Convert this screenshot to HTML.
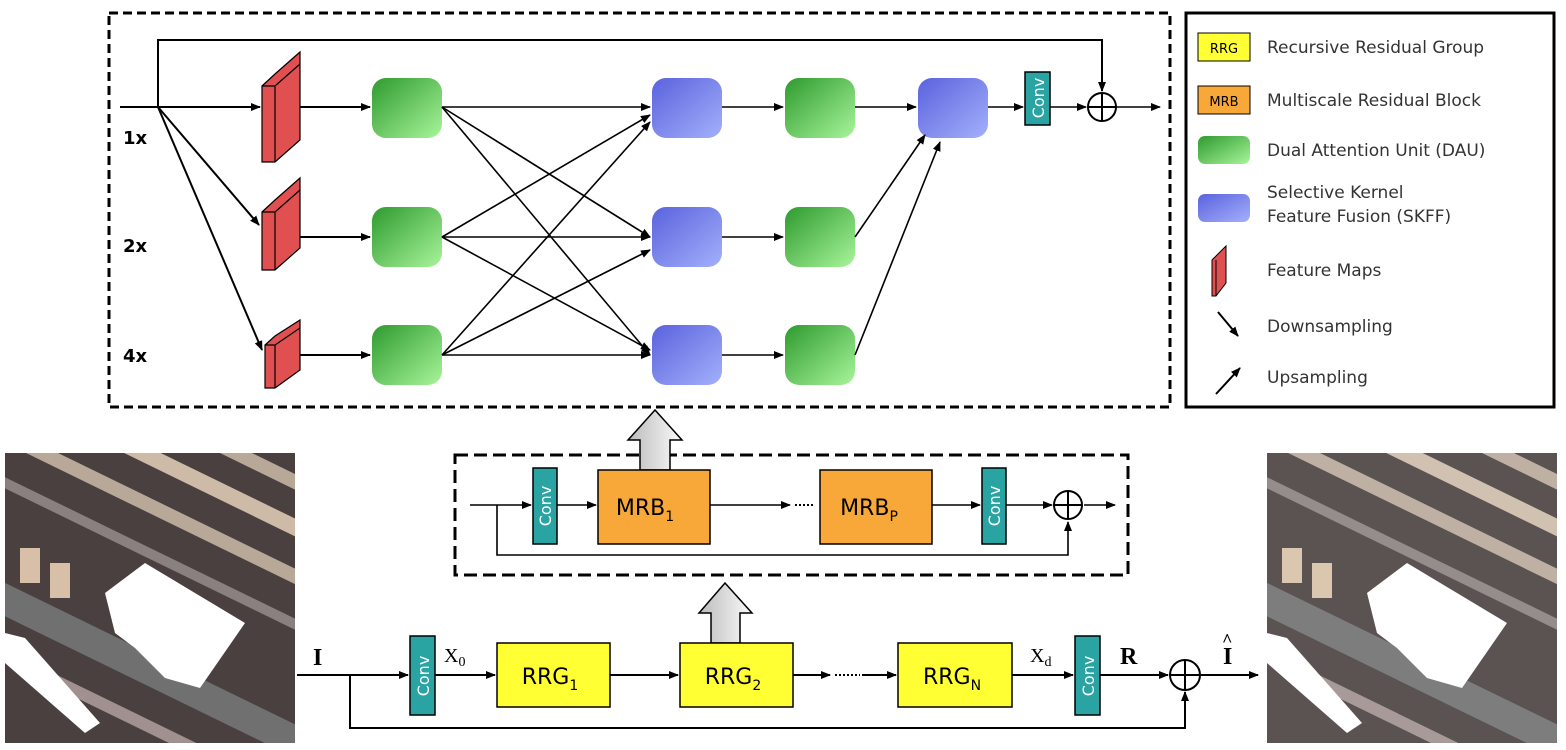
<!DOCTYPE html>
<html><head><meta charset="utf-8"><style>html,body{margin:0;background:#fff;width:1566px;height:750px;overflow:hidden}svg{display:block}</style></head><body>
<svg width="1566" height="750" viewBox="0 0 1566 750" xmlns="http://www.w3.org/2000/svg" font-family="DejaVu Sans, Liberation Sans, sans-serif" overflow="hidden">
<defs>
<marker id="a" markerWidth="10" markerHeight="8" refX="9" refY="4" orient="auto" markerUnits="userSpaceOnUse"><path d="M0,0L10,4L0,8z" fill="#000"/></marker>
<linearGradient id="g" x1="0" y1="0" x2="1" y2="1"><stop offset="0" stop-color="#2e9a2e"/><stop offset="1" stop-color="#a8f59a"/></linearGradient>
<linearGradient id="b" x1="0" y1="0" x2="1" y2="1"><stop offset="0" stop-color="#5a62dd"/><stop offset="1" stop-color="#a3b0fb"/></linearGradient>
<linearGradient id="gr" x1="0" y1="0" x2="1" y2="0"><stop offset="0" stop-color="#bbb"/><stop offset="1" stop-color="#fafafa"/></linearGradient>
<g id="dau"><rect width="70" height="60" rx="14" fill="url(#g)"/></g>
<g id="sk"><rect width="70" height="60" rx="14" fill="url(#b)"/></g>
<symbol id="img" viewBox="0 0 290 290" overflow="hidden">
<rect width="290" height="290" fill="#4a4040"/>
<g transform="rotate(26 145 145)">
<rect x="-100" y="-30" width="500" height="14" fill="#b8a898"/>
<rect x="-100" y="10" width="500" height="16" fill="#cdbba8"/>
<rect x="-100" y="55" width="500" height="14" fill="#b8a898"/>
<rect x="-100" y="100" width="500" height="10" fill="#8a8080"/>
<rect x="-100" y="195" width="500" height="30" fill="#707070"/>
<rect x="-100" y="255" width="500" height="12" fill="#a09090"/>
</g>
<rect x="15" y="95" width="20" height="35" fill="#d8c0a8"/><rect x="45" y="110" width="20" height="35" fill="#d8c0a8"/>
<polygon points="100,140 140,110 240,170 195,235 160,225 130,195 110,180" fill="#fff"/>
<polygon points="0,180 20,185 95,270 80,280 0,210" fill="#fff"/>
</symbol>
</defs>

<rect x="109" y="13" width="1061" height="394" fill="none" stroke="#000" stroke-width="3" stroke-dasharray="9,5"/>
<text x="123" y="144" font-size="18" font-weight="bold">1x</text>
<text x="123" y="252" font-size="18" font-weight="bold">2x</text>
<text x="123" y="362" font-size="18" font-weight="bold">4x</text>
<g stroke="#000" stroke-width="2" fill="none">
<line x1="120" y1="107" x2="260" y2="107" marker-end="url(#a)"/>
<polyline points="158,107 158,40 1102,40 1102,91" marker-end="url(#a)"/>
<line x1="158" y1="107" x2="259" y2="225" marker-end="url(#a)"/>
<line x1="158" y1="107" x2="262" y2="350" marker-end="url(#a)"/>
<line x1="290" y1="107" x2="370" y2="107" marker-end="url(#a)"/>
<line x1="290" y1="237" x2="370" y2="237" marker-end="url(#a)"/>
<line x1="290" y1="355" x2="370" y2="355" marker-end="url(#a)"/>
</g>
<g stroke="#000" stroke-width="1.2" fill="#e05050">
<polygon points="262,86 275,74 300,52 300,140 275,162 262,162"/><line x1="275" y1="86" x2="275" y2="162"/><polyline points="262,86 275,86 300,64" fill="none"/>
<polygon points="262,212 275,200 300,178 300,248 275,270 262,270"/><line x1="275" y1="212" x2="275" y2="270"/><polyline points="262,212 275,212 300,190" fill="none"/>
<polygon points="265,345 275,336 300,320 300,370 275,388 265,388"/><line x1="275" y1="345" x2="275" y2="388"/><polyline points="265,345 275,345 300,328" fill="none"/>
</g>
<use href="#dau" x="372" y="78"/><use href="#dau" x="372" y="207"/><use href="#dau" x="372" y="325"/>
<use href="#sk" x="652" y="78"/><use href="#sk" x="652" y="207"/><use href="#sk" x="652" y="325"/>
<use href="#dau" x="785" y="78"/><use href="#dau" x="785" y="207"/><use href="#dau" x="785" y="325"/>
<use href="#sk" x="918" y="78"/>
<g stroke="#000" stroke-width="1.6" fill="none" marker-end="url(#a)">
<line x1="442" y1="107" x2="650" y2="107"/><line x1="442" y1="107" x2="650" y2="237"/><line x1="442" y1="107" x2="650" y2="355"/>
<line x1="442" y1="237" x2="650" y2="115"/><line x1="442" y1="237" x2="650" y2="237"/><line x1="442" y1="237" x2="650" y2="350"/>
<line x1="442" y1="355" x2="650" y2="122"/><line x1="442" y1="355" x2="650" y2="250"/><line x1="442" y1="355" x2="650" y2="355"/>
<line x1="722" y1="107" x2="783" y2="107"/><line x1="722" y1="237" x2="783" y2="237"/><line x1="722" y1="355" x2="783" y2="355"/>
<line x1="855" y1="107" x2="916" y2="107"/><line x1="855" y1="237" x2="925" y2="135"/><line x1="855" y1="355" x2="940" y2="142"/>
<line x1="988" y1="107" x2="1023" y2="107"/><line x1="1050" y1="107" x2="1086" y2="107"/><line x1="1116" y1="107" x2="1160" y2="107"/>
</g>
<rect x="1025" y="72" width="25" height="53" fill="#2aa3a3" stroke="#000" stroke-width="1.5"/>
<text transform="translate(1044,98) rotate(-90)" font-size="16" fill="#fff" text-anchor="middle">Conv</text>
<circle cx="1102" cy="107" r="14" fill="#fff" stroke="#000" stroke-width="2"/><path d="M1088,107H1116M1102,93V121" stroke="#000" stroke-width="2"/>

<rect x="1186" y="13" width="368" height="394" fill="#fff" stroke="#000" stroke-width="3"/>
<g font-size="17" fill="#333">
<rect x="1198" y="33" width="52" height="28" fill="#ffff33" stroke="#000"/><text x="1224" y="53" font-size="13" text-anchor="middle" fill="#000">RRG</text><text x="1267" y="53">Recursive Residual Group</text>
<rect x="1198" y="86" width="52" height="28" fill="#f8a838" stroke="#000"/><text x="1224" y="106" font-size="13" text-anchor="middle" fill="#000">MRB</text><text x="1267" y="106">Multiscale Residual Block</text>
<rect x="1198" y="136" width="52" height="28" rx="7" fill="url(#g)"/><text x="1267" y="156">Dual Attention Unit (DAU)</text>
<rect x="1198" y="194" width="52" height="28" rx="7" fill="url(#b)"/><text x="1267" y="198">Selective Kernel</text><text x="1267" y="222">Feature Fusion (SKFF)</text>
<polygon points="1212,260 1226,246 1226,283 1216,296 1212,296" fill="#e05050" stroke="#000"/><line x1="1216" y1="260" x2="1216" y2="296" stroke="#000"/><text x="1267" y="276">Feature Maps</text>
<line x1="1218" y1="312" x2="1238" y2="336" stroke="#000" stroke-width="2" marker-end="url(#a)"/><text x="1267" y="332">Downsampling</text>
<line x1="1216" y1="394" x2="1240" y2="368" stroke="#000" stroke-width="2" marker-end="url(#a)"/><text x="1267" y="383">Upsampling</text>
</g>

<rect x="455" y="455" width="673" height="120" fill="none" stroke="#000" stroke-width="3" stroke-dasharray="13,6"/>
<polygon points="640,470 640,440 628,440 655,410 682,440 670,440 670,470" fill="url(#gr)" stroke="#000" stroke-width="1.5"/>
<g stroke="#000" stroke-width="1.6" fill="none" marker-end="url(#a)">
<line x1="470" y1="505" x2="531" y2="505"/><line x1="557" y1="505" x2="596" y2="505"/><line x1="710" y1="505" x2="790" y2="505"/>
<line x1="932" y1="505" x2="980" y2="505"/><line x1="1006" y1="505" x2="1052" y2="505"/><line x1="1084" y1="505" x2="1115" y2="505"/>
<polyline points="497,505 497,555 1068,555 1068,522"/>
</g>
<line x1="795" y1="505" x2="815" y2="505" stroke="#000" stroke-width="2" stroke-dasharray="2,2"/>
<rect x="533" y="468" width="24" height="76" fill="#2aa3a3" stroke="#000" stroke-width="1.5"/><text transform="translate(551,506) rotate(-90)" font-size="16" fill="#fff" text-anchor="middle">Conv</text>
<rect x="982" y="468" width="24" height="76" fill="#2aa3a3" stroke="#000" stroke-width="1.5"/><text transform="translate(1000,506) rotate(-90)" font-size="16" fill="#fff" text-anchor="middle">Conv</text>
<rect x="598" y="470" width="112" height="74" fill="#f8a838" stroke="#000" stroke-width="1.5"/><text x="645" y="515" font-size="22" text-anchor="middle">MRB<tspan font-size="14" dy="6">1</tspan></text>
<rect x="820" y="470" width="112" height="74" fill="#f8a838" stroke="#000" stroke-width="1.5"/><text x="869" y="515" font-size="22" text-anchor="middle">MRB<tspan font-size="14" dy="6">P</tspan></text>
<circle cx="1068" cy="505" r="14" fill="#fff" stroke="#000" stroke-width="2"/><path d="M1054,505H1082M1068,491V519" stroke="#000" stroke-width="2"/>

<polygon points="711,643 711,613 699,613 725,583 752,613 740,613 740,643" fill="url(#gr)" stroke="#000" stroke-width="1.5"/>

<use href="#img" x="5" y="453" width="290" height="290"/>
<use href="#img" x="1267" y="453" width="290" height="290" opacity="0.9"/>
<g stroke="#000" stroke-width="2" fill="none" marker-end="url(#a)">
<line x1="297" y1="675" x2="408" y2="675"/><line x1="435" y1="675" x2="495" y2="675"/><line x1="610" y1="675" x2="678" y2="675"/>
<line x1="793" y1="675" x2="830" y2="675"/><line x1="1012" y1="675" x2="1073" y2="675"/><line x1="1100" y1="675" x2="1168" y2="675"/>
<line x1="1201" y1="675" x2="1258" y2="675"/>
<polyline points="350,675 350,728 1185,728 1185,692"/>
</g>
<line x1="835" y1="675" x2="860" y2="675" stroke="#000" stroke-width="2" stroke-dasharray="2,2"/>
<line x1="862" y1="675" x2="896" y2="675" stroke="#000" stroke-width="2" marker-end="url(#a)"/>
<rect x="410" y="636" width="25" height="79" fill="#2aa3a3" stroke="#000" stroke-width="1.5"/><text transform="translate(429,676) rotate(-90)" font-size="16" fill="#fff" text-anchor="middle">Conv</text>
<rect x="1075" y="636" width="25" height="79" fill="#2aa3a3" stroke="#000" stroke-width="1.5"/><text transform="translate(1094,676) rotate(-90)" font-size="16" fill="#fff" text-anchor="middle">Conv</text>
<rect x="497" y="643" width="113" height="64" fill="#ffff33" stroke="#000" stroke-width="1.5"/><text x="550" y="684" font-size="22" text-anchor="middle">RRG<tspan font-size="14" dy="6">1</tspan></text>
<rect x="680" y="643" width="113" height="64" fill="#ffff33" stroke="#000" stroke-width="1.5"/><text x="733" y="684" font-size="22" text-anchor="middle">RRG<tspan font-size="14" dy="6">2</tspan></text>
<rect x="898" y="643" width="114" height="64" fill="#ffff33" stroke="#000" stroke-width="1.5"/><text x="952" y="684" font-size="22" text-anchor="middle">RRG<tspan font-size="14" dy="6">N</tspan></text>
<circle cx="1185" cy="675" r="15" fill="#fff" stroke="#000" stroke-width="2"/><path d="M1170,675H1200M1185,660V690" stroke="#000" stroke-width="2"/>
<g font-family="Liberation Serif, serif" font-weight="bold" font-size="24">
<text x="313" y="665">I</text><text x="1120" y="664">R</text><text x="1223" y="664">I</text><text x="1222" y="646" font-size="18">^</text>
</g>
<g font-family="Liberation Serif, serif" font-size="20">
<text x="444" y="662">X<tspan font-size="14" dy="4">0</tspan></text>
<text x="1030" y="662">X<tspan font-size="14" dy="4">d</tspan></text>
</g>
</svg>
</body></html>
